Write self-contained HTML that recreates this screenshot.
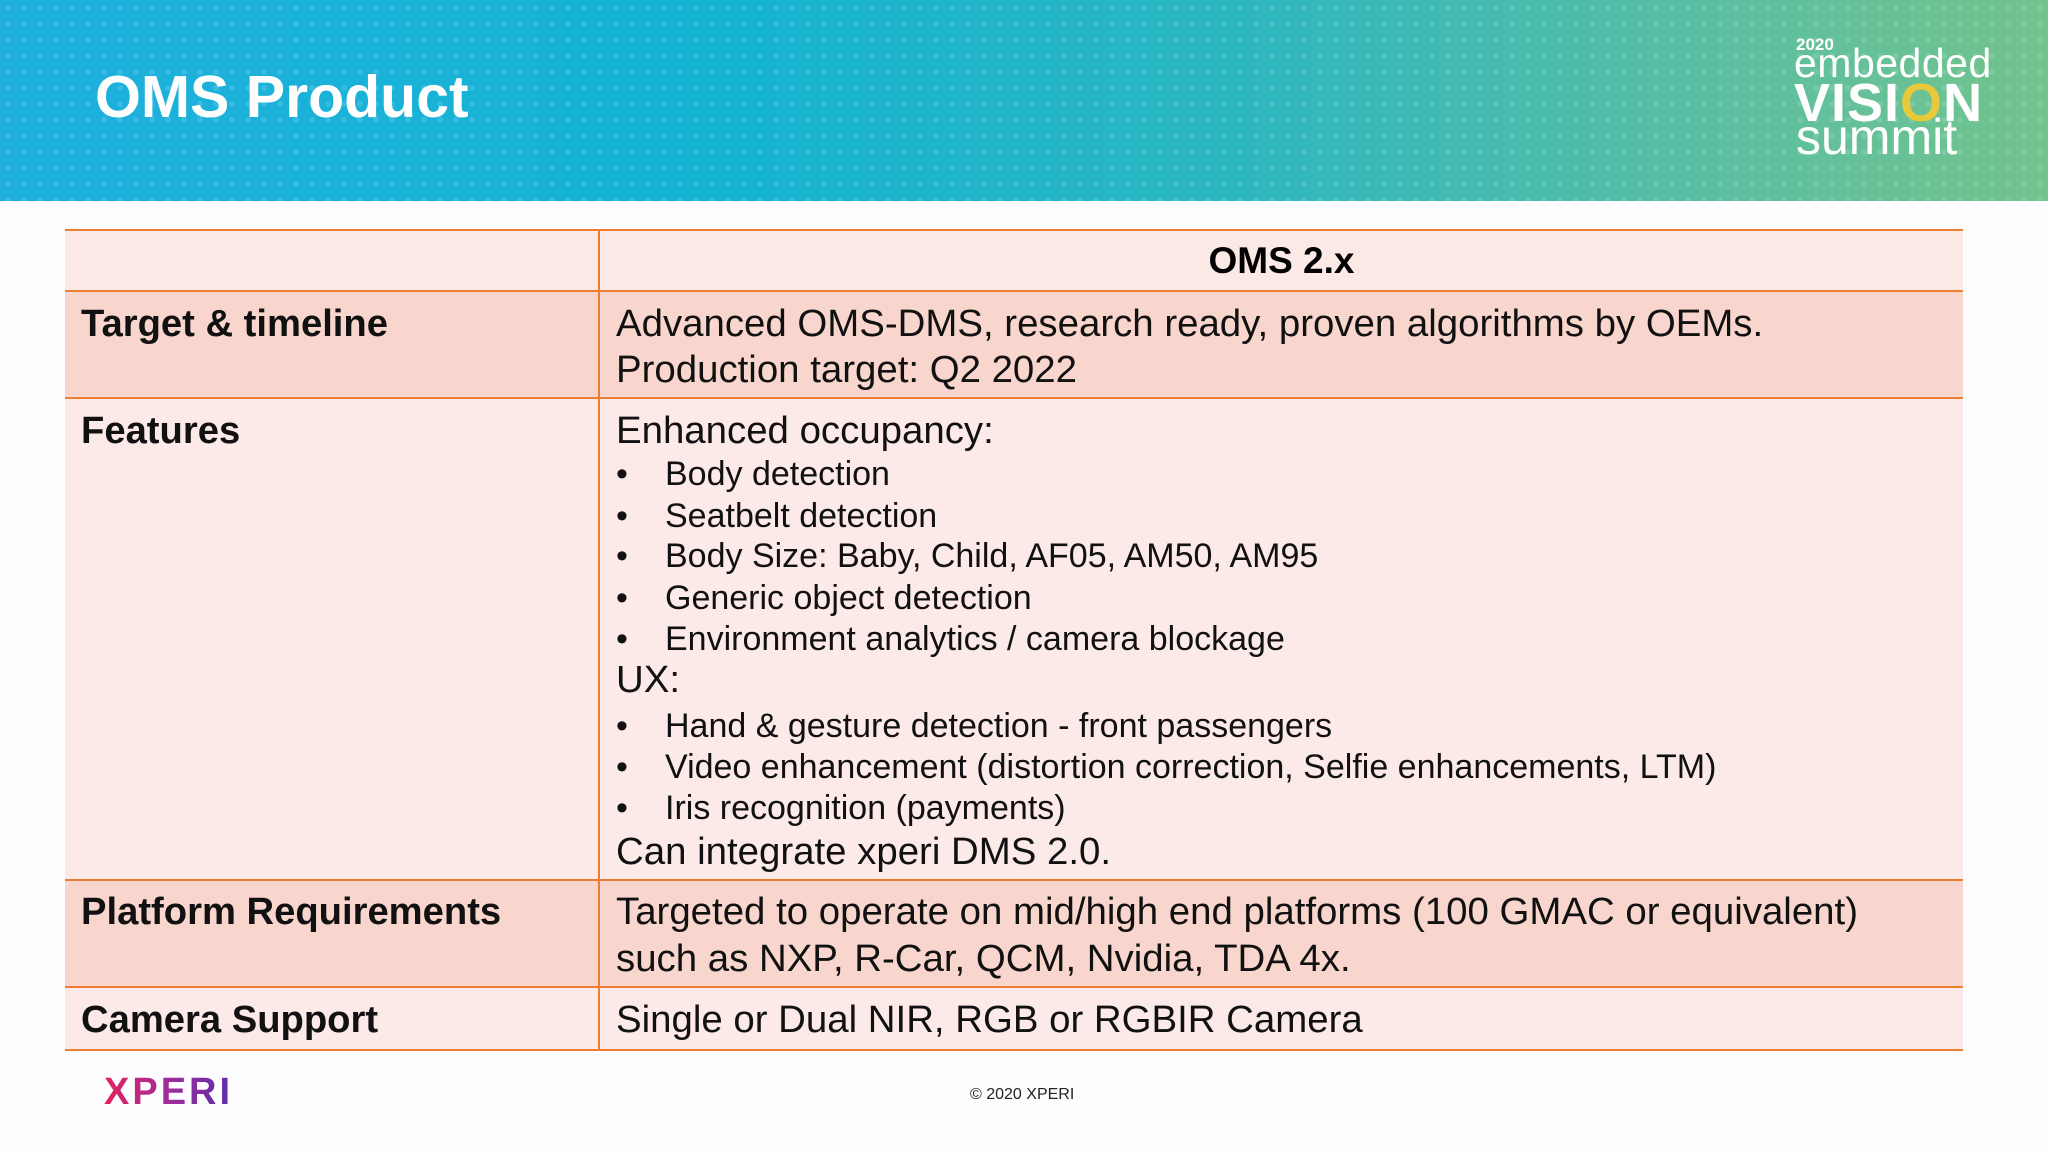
<!DOCTYPE html>
<html><head><meta charset="utf-8">
<style>
*{margin:0;padding:0;box-sizing:border-box}
body{width:2048px;height:1152px;position:relative;background:#fdfcfe;font-family:"Liberation Sans",sans-serif;overflow:hidden}
.abs{position:absolute;white-space:nowrap}
#hdr{position:absolute;left:0;top:0;width:2048px;height:201px;background:linear-gradient(90deg,#1fb0de 0%,#14b3d2 35%,#2bb6c0 60%,#5dbfa0 85%,#72c38c 100%);overflow:hidden}
#dots{position:absolute;inset:0;background-image:radial-gradient(circle,rgba(255,255,255,.22) 2.5px,transparent 3.5px);background-size:16px 16px;opacity:.6}
.t{font-size:38.4px;color:#111;height:46px;line-height:46px}
.b{font-size:34px;color:#111;height:40px;line-height:40px}
.lab{font-size:38.2px;font-weight:bold;color:#111;height:46px;line-height:46px;left:81px}
.row{position:absolute;left:65px;width:1898px;border-bottom:2px solid #ed7d31}
</style></head><body>
<div id="hdr">
<div id="dots"></div>
<div class="abs" style="left:95px;top:62px;font-size:59px;font-weight:bold;color:#fff;line-height:70px">OMS Product</div>
<div>
<div class="abs" style="left:1796px;top:36px;font-size:17px;font-weight:bold;color:#fff;line-height:18px">2020</div>
<div class="abs" style="left:1794px;top:44px;font-size:41px;color:#fff;line-height:38px;letter-spacing:0.5px">embedded</div>
<div class="abs" style="left:1794px;top:78px;font-size:54px;font-weight:bold;color:#fff;line-height:50px;letter-spacing:1px">VISI<span style="color:#e8c93a">O</span>N</div>
<div class="abs" style="left:1796px;top:114px;font-size:50px;color:#fff;line-height:46px">summit</div>
</div>
</div>

<div style="position:absolute;left:65px;top:229px;width:1898px;height:822px;border:2px solid #ed7d31;background:#fbeae7"></div>
<div class="row" style="top:231px;height:61px;background:#fbe9e6"></div>
<div class="row" style="top:292px;height:107px;background:#f8d6cd"></div>
<div class="row" style="top:399px;height:482px;background:#fbeae7"></div>
<div class="row" style="top:881px;height:107px;background:#f8d6cd"></div>
<div class="row" style="top:988px;height:61px;background:#fbeae7;border-bottom:none"></div>
<div style="position:absolute;left:598px;top:229px;width:2px;height:822px;background:#ed7d31"></div>

<div class="abs" style="left:600px;width:1363px;text-align:center;top:238px;font-size:37px;font-weight:bold;line-height:46px">OMS 2.x</div>

<div class="abs lab" style="top:301px">Target &amp; timeline</div>
<div class="abs t" style="left:616px;top:301px">Advanced OMS-DMS, research ready, proven algorithms by OEMs.</div>
<div class="abs t" style="left:616px;top:347px">Production target: Q2 2022</div>

<div class="abs lab" style="top:408px">Features</div>
<div class="abs t" style="left:616px;top:408px">Enhanced occupancy:</div>
<div>
<div class="abs b" style="left:616px;top:454px">•</div><div class="abs b" style="left:665px;top:454px">Body detection</div>
<div class="abs b" style="left:616px;top:496px">•</div><div class="abs b" style="left:665px;top:496px">Seatbelt detection</div>
<div class="abs b" style="left:616px;top:536px">•</div><div class="abs b" style="left:665px;top:536px">Body Size: Baby, Child, AF05, AM50, AM95</div>
<div class="abs b" style="left:616px;top:578px">•</div><div class="abs b" style="left:665px;top:578px">Generic object detection</div>
<div class="abs b" style="left:616px;top:619px">•</div><div class="abs b" style="left:665px;top:619px">Environment analytics / camera blockage</div>
</div>
<div class="abs t" style="left:616px;top:657px">UX:</div>
<div>
<div class="abs b" style="left:616px;top:706px">•</div><div class="abs b" style="left:665px;top:706px">Hand &amp; gesture detection - front passengers</div>
<div class="abs b" style="left:616px;top:747px">•</div><div class="abs b" style="left:665px;top:747px">Video enhancement (distortion correction, Selfie enhancements, LTM)</div>
<div class="abs b" style="left:616px;top:788px">•</div><div class="abs b" style="left:665px;top:788px">Iris recognition (payments)</div>
</div>
<div class="abs t" style="left:616px;top:829px">Can integrate xperi DMS 2.0.</div>

<div class="abs lab" style="top:889px">Platform Requirements</div>
<div class="abs t" style="left:616px;top:889px">Targeted to operate on mid/high end platforms (100 GMAC or equivalent)</div>
<div class="abs t" style="left:616px;top:936px">such as NXP, R-Car, QCM, Nvidia, TDA 4x.</div>

<div class="abs lab" style="top:997px">Camera Support</div>
<div class="abs t" style="left:616px;top:997px">Single or Dual NIR, RGB or RGBIR Camera</div>

<div class="abs" style="left:104px;top:1074px;font-size:38px;font-weight:bold;line-height:36px;letter-spacing:3px;background:linear-gradient(90deg,#e3245f,#a02c9a,#5a2fa8);-webkit-background-clip:text;background-clip:text;color:transparent">XPERI</div>
<div class="abs" style="left:970px;top:1085px;font-size:16px;line-height:20px;color:#222">© 2020 XPERI</div>
</body></html>
